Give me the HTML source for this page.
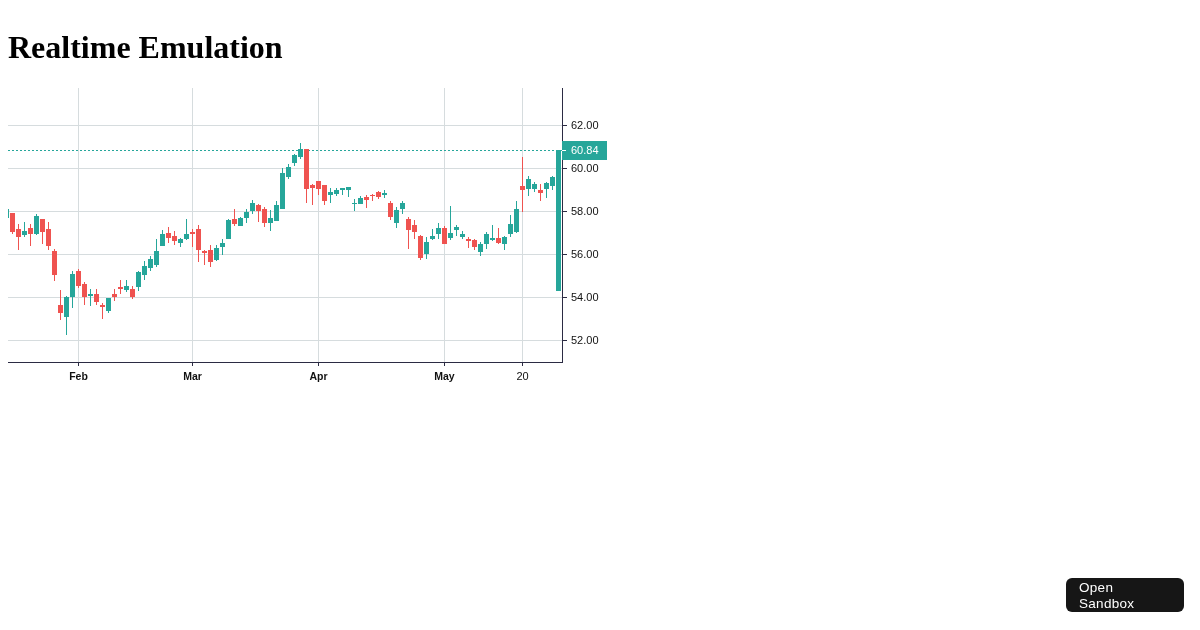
<!DOCTYPE html>
<html><head><meta charset="utf-8"><title>Realtime Emulation</title>
<style>
html,body{margin:0;padding:0;background:#fff;}
html{filter:grayscale(0.0001);}
body{margin:8px;font-family:"Liberation Serif",serif;}
h1{font-size:32px;font-weight:bold;margin:21.44px 0;line-height:normal;}
#chart{position:relative;width:600px;height:300px;}
.lbl{font-family:"Liberation Sans",sans-serif;font-size:11px;fill:#111111;}
svg text{}
.b{font-weight:bold;font-size:10.5px;}
.w{fill:#ffffff;}
#btn{position:absolute;left:1066px;top:578px;width:118px;height:34px;background:#161616;border-radius:6px;color:#fff;font-family:"Liberation Sans",sans-serif;font-size:13.5px;letter-spacing:0.3px;line-height:16px;box-sizing:border-box;padding:2px 0 0 13px;}
</style></head><body>
<h1>Realtime Emulation</h1>
<div id="chart"><svg width="554" height="274" viewBox="0 0 554 274" style="position:absolute;left:0;top:0" shape-rendering="crispEdges"><rect x="0" y="37" width="554" height="1" fill="#d6dcde"/><rect x="0" y="80" width="554" height="1" fill="#d6dcde"/><rect x="0" y="123" width="554" height="1" fill="#d6dcde"/><rect x="0" y="166" width="554" height="1" fill="#d6dcde"/><rect x="0" y="209" width="554" height="1" fill="#d6dcde"/><rect x="0" y="252" width="554" height="1" fill="#d6dcde"/><rect x="70" y="0" width="1" height="274" fill="#d6dcde"/><rect x="184" y="0" width="1" height="274" fill="#d6dcde"/><rect x="310" y="0" width="1" height="274" fill="#d6dcde"/><rect x="436" y="0" width="1" height="274" fill="#d6dcde"/><rect x="514" y="0" width="1" height="274" fill="#d6dcde"/><line x1="0" y1="62.5" x2="554" y2="62.5" stroke="#26a69a" stroke-width="1" stroke-dasharray="2 2"/><rect x="-2" y="121" width="1" height="9" fill="#26a69a"/><rect x="-4" y="121" width="5" height="9" fill="#26a69a"/><rect x="4" y="125" width="1" height="21" fill="#ef5350"/><rect x="2" y="125" width="5" height="19" fill="#ef5350"/><rect x="10" y="136" width="1" height="26" fill="#ef5350"/><rect x="8" y="141" width="5" height="8" fill="#ef5350"/><rect x="16" y="134" width="1" height="15" fill="#26a69a"/><rect x="14" y="143" width="5" height="4" fill="#26a69a"/><rect x="22" y="136" width="1" height="22" fill="#ef5350"/><rect x="20" y="140" width="5" height="6" fill="#ef5350"/><rect x="28" y="126" width="1" height="21" fill="#26a69a"/><rect x="26" y="128" width="5" height="18" fill="#26a69a"/><rect x="34" y="131" width="1" height="25" fill="#ef5350"/><rect x="32" y="131" width="5" height="13" fill="#ef5350"/><rect x="40" y="134" width="1" height="28" fill="#ef5350"/><rect x="38" y="141" width="5" height="17" fill="#ef5350"/><rect x="46" y="161" width="1" height="32" fill="#ef5350"/><rect x="44" y="163" width="5" height="24" fill="#ef5350"/><rect x="52" y="202" width="1" height="30" fill="#ef5350"/><rect x="50" y="217" width="5" height="8" fill="#ef5350"/><rect x="58" y="208" width="1" height="39" fill="#26a69a"/><rect x="56" y="209" width="5" height="20" fill="#26a69a"/><rect x="64" y="183" width="1" height="37" fill="#26a69a"/><rect x="62" y="186" width="5" height="23" fill="#26a69a"/><rect x="70" y="181" width="1" height="19" fill="#ef5350"/><rect x="68" y="183" width="5" height="15" fill="#ef5350"/><rect x="76" y="194" width="1" height="23" fill="#ef5350"/><rect x="74" y="196" width="5" height="13" fill="#ef5350"/><rect x="82" y="201" width="1" height="17" fill="#26a69a"/><rect x="80" y="206" width="5" height="2" fill="#26a69a"/><rect x="88" y="201" width="1" height="16" fill="#ef5350"/><rect x="86" y="206" width="5" height="8" fill="#ef5350"/><rect x="94" y="215" width="1" height="16" fill="#ef5350"/><rect x="92" y="217" width="5" height="2" fill="#ef5350"/><rect x="100" y="210" width="1" height="15" fill="#26a69a"/><rect x="98" y="210" width="5" height="13" fill="#26a69a"/><rect x="106" y="201" width="1" height="12" fill="#ef5350"/><rect x="104" y="206" width="5" height="3" fill="#ef5350"/><rect x="112" y="192" width="1" height="14" fill="#ef5350"/><rect x="110" y="199" width="5" height="2" fill="#ef5350"/><rect x="118" y="192" width="1" height="12" fill="#26a69a"/><rect x="116" y="198" width="5" height="4" fill="#26a69a"/><rect x="124" y="198" width="1" height="13" fill="#ef5350"/><rect x="122" y="201" width="5" height="8" fill="#ef5350"/><rect x="130" y="183" width="1" height="20" fill="#26a69a"/><rect x="128" y="184" width="5" height="15" fill="#26a69a"/><rect x="136" y="173" width="1" height="19" fill="#26a69a"/><rect x="134" y="178" width="5" height="9" fill="#26a69a"/><rect x="142" y="168" width="1" height="15" fill="#26a69a"/><rect x="140" y="171" width="5" height="9" fill="#26a69a"/><rect x="148" y="151" width="1" height="28" fill="#26a69a"/><rect x="146" y="163" width="5" height="14" fill="#26a69a"/><rect x="154" y="142" width="1" height="16" fill="#26a69a"/><rect x="152" y="146" width="5" height="12" fill="#26a69a"/><rect x="160" y="139" width="1" height="16" fill="#ef5350"/><rect x="158" y="145" width="5" height="5" fill="#ef5350"/><rect x="166" y="143" width="1" height="14" fill="#ef5350"/><rect x="164" y="148" width="5" height="5" fill="#ef5350"/><rect x="172" y="150" width="1" height="9" fill="#26a69a"/><rect x="170" y="151" width="5" height="4" fill="#26a69a"/><rect x="178" y="131" width="1" height="21" fill="#26a69a"/><rect x="176" y="146" width="5" height="5" fill="#26a69a"/><rect x="184" y="141" width="1" height="18" fill="#ef5350"/><rect x="182" y="144" width="5" height="2" fill="#ef5350"/><rect x="190" y="137" width="1" height="37" fill="#ef5350"/><rect x="188" y="141" width="5" height="21" fill="#ef5350"/><rect x="196" y="162" width="1" height="15" fill="#ef5350"/><rect x="194" y="163" width="5" height="2" fill="#ef5350"/><rect x="202" y="157" width="1" height="22" fill="#ef5350"/><rect x="200" y="162" width="5" height="12" fill="#ef5350"/><rect x="208" y="157" width="1" height="16" fill="#26a69a"/><rect x="206" y="160" width="5" height="12" fill="#26a69a"/><rect x="214" y="151" width="1" height="16" fill="#26a69a"/><rect x="212" y="155" width="5" height="4" fill="#26a69a"/><rect x="220" y="131" width="1" height="20" fill="#26a69a"/><rect x="218" y="132" width="5" height="19" fill="#26a69a"/><rect x="226" y="121" width="1" height="17" fill="#ef5350"/><rect x="224" y="131" width="5" height="5" fill="#ef5350"/><rect x="232" y="129" width="1" height="9" fill="#26a69a"/><rect x="230" y="130" width="5" height="8" fill="#26a69a"/><rect x="238" y="121" width="1" height="14" fill="#26a69a"/><rect x="236" y="124" width="5" height="6" fill="#26a69a"/><rect x="244" y="112" width="1" height="14" fill="#26a69a"/><rect x="242" y="115" width="5" height="8" fill="#26a69a"/><rect x="250" y="116" width="1" height="18" fill="#ef5350"/><rect x="248" y="117" width="5" height="6" fill="#ef5350"/><rect x="256" y="119" width="1" height="20" fill="#ef5350"/><rect x="254" y="121" width="5" height="14" fill="#ef5350"/><rect x="262" y="122" width="1" height="21" fill="#26a69a"/><rect x="260" y="130" width="5" height="5" fill="#26a69a"/><rect x="268" y="113" width="1" height="20" fill="#26a69a"/><rect x="266" y="117" width="5" height="16" fill="#26a69a"/><rect x="274" y="80" width="1" height="41" fill="#26a69a"/><rect x="272" y="85" width="5" height="36" fill="#26a69a"/><rect x="280" y="76" width="1" height="15" fill="#26a69a"/><rect x="278" y="79" width="5" height="10" fill="#26a69a"/><rect x="286" y="66" width="1" height="12" fill="#26a69a"/><rect x="284" y="67" width="5" height="8" fill="#26a69a"/><rect x="292" y="55" width="1" height="16" fill="#26a69a"/><rect x="290" y="61" width="5" height="8" fill="#26a69a"/><rect x="298" y="61" width="1" height="54" fill="#ef5350"/><rect x="296" y="61" width="5" height="40" fill="#ef5350"/><rect x="304" y="96" width="1" height="21" fill="#ef5350"/><rect x="302" y="97" width="5" height="3" fill="#ef5350"/><rect x="310" y="93" width="1" height="14" fill="#ef5350"/><rect x="308" y="93" width="5" height="8" fill="#ef5350"/><rect x="316" y="97" width="1" height="20" fill="#ef5350"/><rect x="314" y="97" width="5" height="16" fill="#ef5350"/><rect x="322" y="100" width="1" height="15" fill="#26a69a"/><rect x="320" y="104" width="5" height="3" fill="#26a69a"/><rect x="328" y="100" width="1" height="8" fill="#26a69a"/><rect x="326" y="102" width="5" height="4" fill="#26a69a"/><rect x="334" y="100" width="1" height="7" fill="#26a69a"/><rect x="332" y="100" width="5" height="2" fill="#26a69a"/><rect x="340" y="99" width="1" height="10" fill="#26a69a"/><rect x="338" y="99" width="5" height="3" fill="#26a69a"/><rect x="346" y="111" width="1" height="12" fill="#26a69a"/><rect x="344" y="115" width="5" height="1" fill="#26a69a"/><rect x="352" y="108" width="1" height="8" fill="#26a69a"/><rect x="350" y="110" width="5" height="6" fill="#26a69a"/><rect x="358" y="107" width="1" height="13" fill="#ef5350"/><rect x="356" y="109" width="5" height="3" fill="#ef5350"/><rect x="364" y="106" width="1" height="7" fill="#ef5350"/><rect x="362" y="107" width="5" height="1" fill="#ef5350"/><rect x="370" y="103" width="1" height="8" fill="#ef5350"/><rect x="368" y="104" width="5" height="5" fill="#ef5350"/><rect x="376" y="102" width="1" height="8" fill="#26a69a"/><rect x="374" y="105" width="5" height="2" fill="#26a69a"/><rect x="382" y="113" width="1" height="19" fill="#ef5350"/><rect x="380" y="115" width="5" height="14" fill="#ef5350"/><rect x="388" y="119" width="1" height="21" fill="#26a69a"/><rect x="386" y="122" width="5" height="13" fill="#26a69a"/><rect x="394" y="113" width="1" height="13" fill="#26a69a"/><rect x="392" y="115" width="5" height="6" fill="#26a69a"/><rect x="400" y="129" width="1" height="32" fill="#ef5350"/><rect x="398" y="131" width="5" height="11" fill="#ef5350"/><rect x="406" y="132" width="1" height="19" fill="#ef5350"/><rect x="404" y="137" width="5" height="7" fill="#ef5350"/><rect x="412" y="147" width="1" height="25" fill="#ef5350"/><rect x="410" y="148" width="5" height="22" fill="#ef5350"/><rect x="418" y="149" width="1" height="22" fill="#26a69a"/><rect x="416" y="154" width="5" height="12" fill="#26a69a"/><rect x="424" y="141" width="1" height="11" fill="#26a69a"/><rect x="422" y="148" width="5" height="3" fill="#26a69a"/><rect x="430" y="135" width="1" height="16" fill="#26a69a"/><rect x="428" y="140" width="5" height="6" fill="#26a69a"/><rect x="436" y="138" width="1" height="18" fill="#ef5350"/><rect x="434" y="140" width="5" height="16" fill="#ef5350"/><rect x="442" y="118" width="1" height="34" fill="#26a69a"/><rect x="440" y="145" width="5" height="5" fill="#26a69a"/><rect x="448" y="137" width="1" height="11" fill="#26a69a"/><rect x="446" y="139" width="5" height="3" fill="#26a69a"/><rect x="454" y="143" width="1" height="8" fill="#26a69a"/><rect x="452" y="146" width="5" height="3" fill="#26a69a"/><rect x="460" y="149" width="1" height="11" fill="#ef5350"/><rect x="458" y="151" width="5" height="2" fill="#ef5350"/><rect x="466" y="151" width="1" height="11" fill="#ef5350"/><rect x="464" y="152" width="5" height="7" fill="#ef5350"/><rect x="472" y="154" width="1" height="14" fill="#26a69a"/><rect x="470" y="156" width="5" height="8" fill="#26a69a"/><rect x="478" y="144" width="1" height="17" fill="#26a69a"/><rect x="476" y="146" width="5" height="10" fill="#26a69a"/><rect x="484" y="137" width="1" height="16" fill="#26a69a"/><rect x="482" y="150" width="5" height="2" fill="#26a69a"/><rect x="490" y="140" width="1" height="16" fill="#ef5350"/><rect x="488" y="150" width="5" height="5" fill="#ef5350"/><rect x="496" y="148" width="1" height="14" fill="#26a69a"/><rect x="494" y="149" width="5" height="7" fill="#26a69a"/><rect x="502" y="127" width="1" height="22" fill="#26a69a"/><rect x="500" y="136" width="5" height="10" fill="#26a69a"/><rect x="508" y="113" width="1" height="32" fill="#26a69a"/><rect x="506" y="121" width="5" height="23" fill="#26a69a"/><rect x="514" y="69" width="1" height="55" fill="#ef5350"/><rect x="512" y="98" width="5" height="4" fill="#ef5350"/><rect x="520" y="88" width="1" height="20" fill="#26a69a"/><rect x="518" y="91" width="5" height="10" fill="#26a69a"/><rect x="526" y="94" width="1" height="10" fill="#26a69a"/><rect x="524" y="96" width="5" height="5" fill="#26a69a"/><rect x="532" y="96" width="1" height="17" fill="#ef5350"/><rect x="530" y="102" width="5" height="3" fill="#ef5350"/><rect x="538" y="94" width="1" height="16" fill="#26a69a"/><rect x="536" y="95" width="5" height="6" fill="#26a69a"/><rect x="544" y="88" width="1" height="14" fill="#26a69a"/><rect x="542" y="89" width="5" height="9" fill="#26a69a"/><rect x="550" y="62" width="1" height="141" fill="#26a69a"/><rect x="548" y="62" width="5" height="141" fill="#26a69a"/></svg><svg width="46" height="300" style="position:absolute;left:554px;top:0" shape-rendering="crispEdges"><rect x="0" y="0" width="1" height="275" fill="#2b2b43"/><rect x="1" y="37" width="4" height="1" fill="#2b2b43"/><text x="9" y="41" class="lbl">62.00</text><rect x="1" y="80" width="4" height="1" fill="#2b2b43"/><text x="9" y="84" class="lbl">60.00</text><rect x="1" y="123" width="4" height="1" fill="#2b2b43"/><text x="9" y="127" class="lbl">58.00</text><rect x="1" y="166" width="4" height="1" fill="#2b2b43"/><text x="9" y="170" class="lbl">56.00</text><rect x="1" y="209" width="4" height="1" fill="#2b2b43"/><text x="9" y="213" class="lbl">54.00</text><rect x="1" y="252" width="4" height="1" fill="#2b2b43"/><text x="9" y="256" class="lbl">52.00</text><rect x="0" y="53" width="45" height="19" fill="#26a69a"/><rect x="0" y="62" width="4" height="1" fill="#ffffff"/><text x="9" y="66" class="lbl w">60.84</text></svg><svg width="554" height="26" style="position:absolute;left:0;top:274px" shape-rendering="crispEdges"><rect x="0" y="0" width="554" height="1" fill="#2b2b43"/><rect x="70" y="1" width="1" height="3" fill="#2b2b43"/><text x="70.5" y="18" text-anchor="middle" class="lbl b">Feb</text><rect x="184" y="1" width="1" height="3" fill="#2b2b43"/><text x="184.5" y="18" text-anchor="middle" class="lbl b">Mar</text><rect x="310" y="1" width="1" height="3" fill="#2b2b43"/><text x="310.5" y="18" text-anchor="middle" class="lbl b">Apr</text><rect x="436" y="1" width="1" height="3" fill="#2b2b43"/><text x="436.5" y="18" text-anchor="middle" class="lbl b">May</text><rect x="514" y="1" width="1" height="3" fill="#2b2b43"/><text x="514.5" y="18" text-anchor="middle" class="lbl">20</text></svg></div>
<div id="btn">Open<br>Sandbox</div>
</body></html>
